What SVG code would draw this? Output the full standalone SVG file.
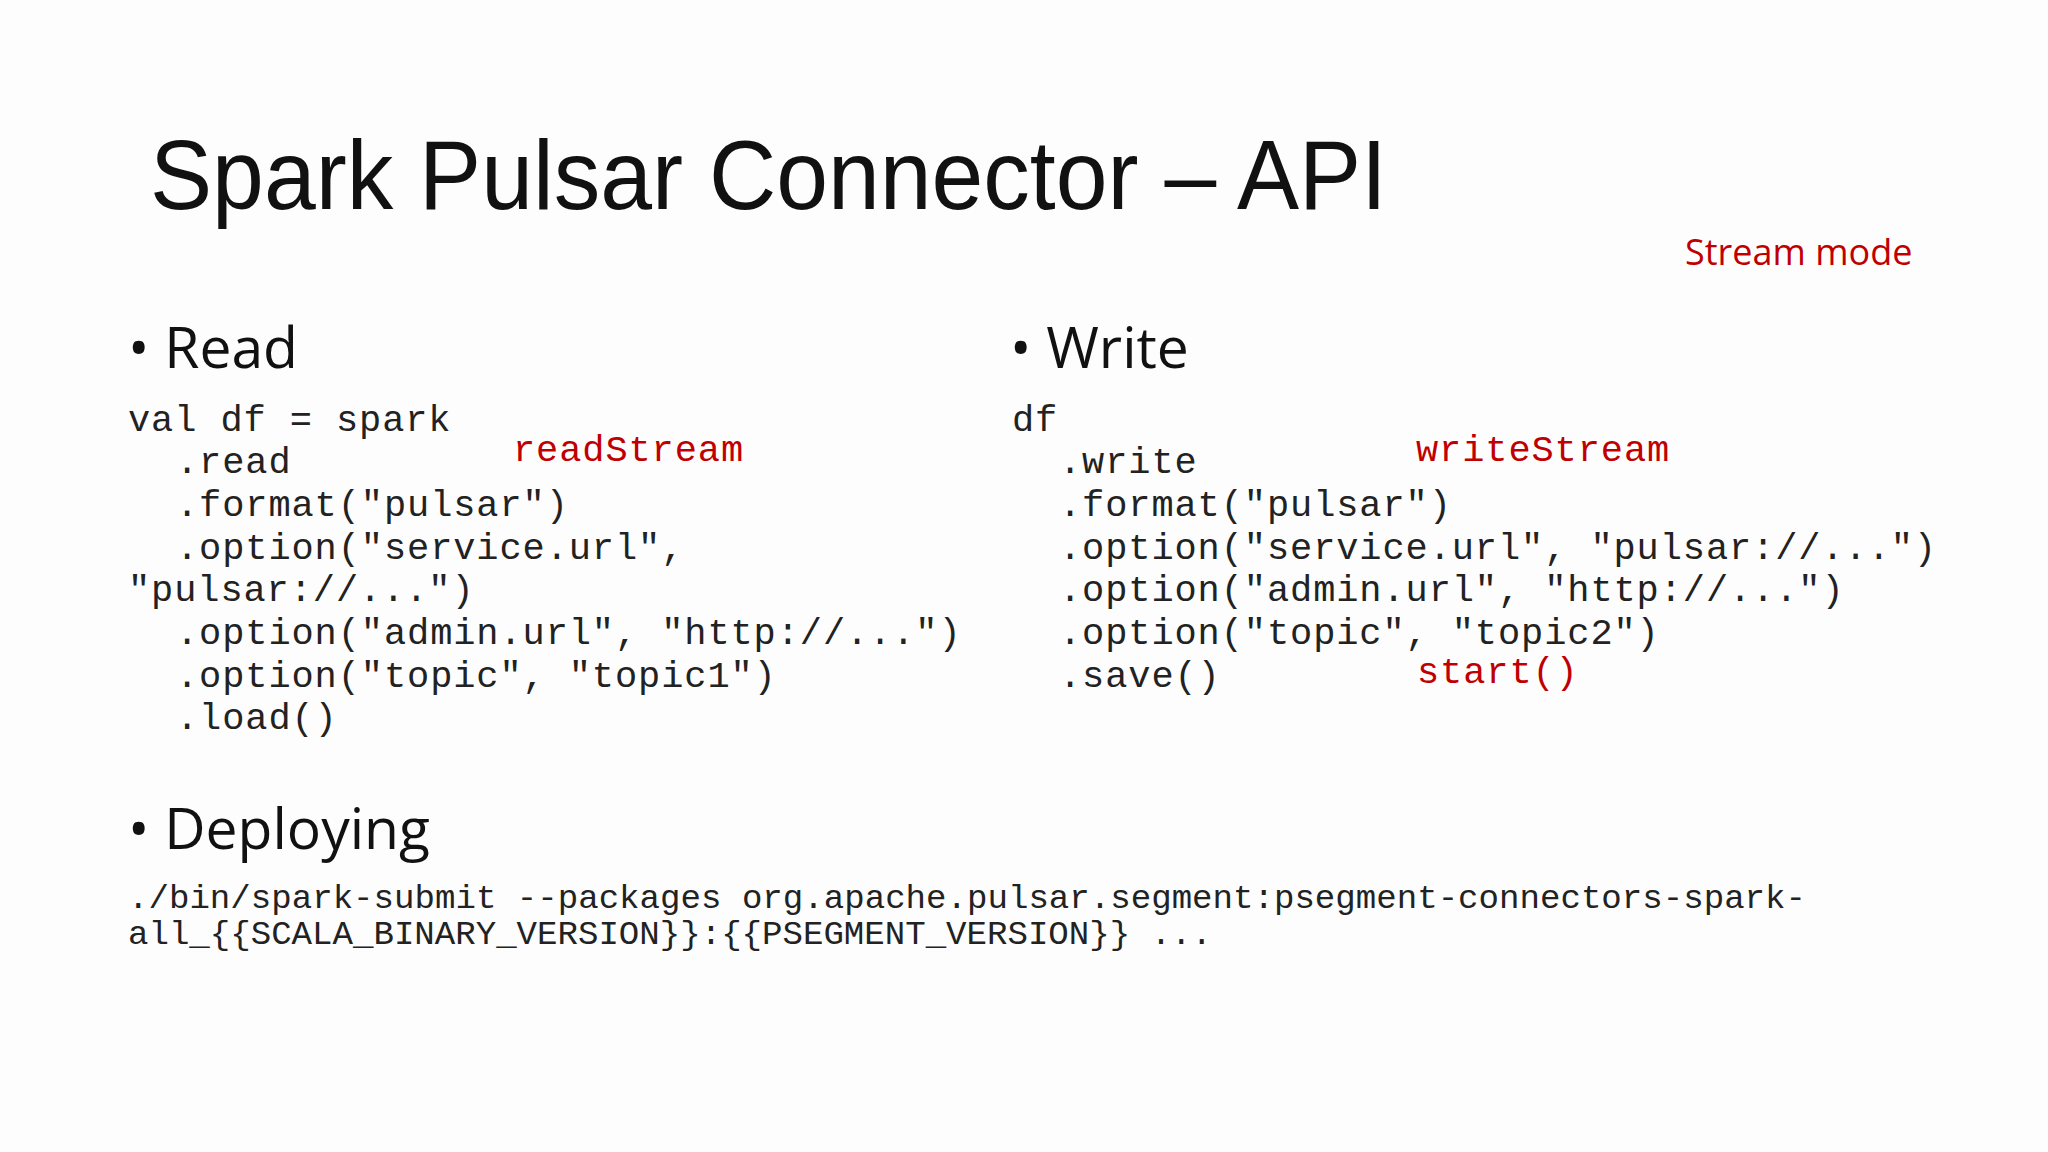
<svg xmlns="http://www.w3.org/2000/svg" width="2048" height="1152" viewBox="0 0 2048 1152">
<style>
.t{font-family:"Liberation Sans",Arial,sans-serif;fill:#111}
.h{font-family:"Open Sans","Liberation Sans",sans-serif;font-size:57px;fill:#111}
.c{font-family:"Liberation Mono","Courier New",monospace;font-size:37px;letter-spacing:0.9px;fill:#222}
.d{font-family:"Liberation Mono","Courier New",monospace;font-size:33px;fill:#222}
.r{fill:#c00000}
</style>
<rect width="2048" height="1152" fill="#fdfdfd"/>
<text class="t" x="150" y="209" font-size="98" font-weight="300" textLength="1237" lengthAdjust="spacingAndGlyphs">Spark Pulsar Connector – API</text>
<text x="1685" y="265" font-family="Open Sans, Liberation Sans, sans-serif" font-size="36" class="r">Stream mode</text>
<g id="read">
<text class="h" x="128" y="368">• Read</text>
<text class="c" x="128" y="431">val df = spark</text>
<text class="c" x="176" y="473">.read</text>
<text class="c r" x="513" y="461">readStream</text>
<text class="c" x="176" y="516">.format("pulsar")</text>
<text class="c" x="176" y="559">.option("service.url",</text>
<text class="c" x="128" y="601">"pulsar://...")</text>
<text class="c" x="176" y="644">.option("admin.url", "http://...")</text>
<text class="c" x="176" y="687">.option("topic", "topic1")</text>
<text class="c" x="176" y="729">.load()</text>
</g>
<g id="write">
<text class="h" x="1010" y="368">• Write</text>
<text class="c" x="1012" y="431">df</text>
<text class="c" x="1059" y="473">.write</text>
<text class="c r" x="1416" y="461">writeStream</text>
<text class="c" x="1059" y="516">.format("pulsar")</text>
<text class="c" x="1059" y="559">.option("service.url", "pulsar://...")</text>
<text class="c" x="1059" y="601">.option("admin.url", "http://...")</text>
<text class="c" x="1059" y="644">.option("topic", "topic2")</text>
<text class="c" x="1059" y="687">.save()</text>
<text class="c r" x="1417" y="683">start()</text>
</g>
<g id="deploy">
<text class="h" x="128" y="849">• Deploying</text>
<text class="d" x="128" y="908" textLength="1678" lengthAdjust="spacingAndGlyphs">./bin/spark-submit --packages org.apache.pulsar.segment:psegment-connectors-spark-</text>
<text class="d" x="128" y="944" textLength="1084" lengthAdjust="spacingAndGlyphs">all_{{SCALA_BINARY_VERSION}}:{{PSEGMENT_VERSION}} ...</text>
</g>
<g id="connectors"/>
</svg>
